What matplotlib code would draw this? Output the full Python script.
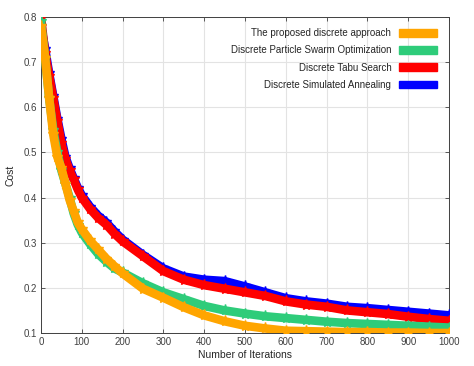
import matplotlib
matplotlib.use("Agg")
import matplotlib.pyplot as plt
from matplotlib.patches import Patch

iterations = [0, 10, 20, 30, 40, 50, 60, 70, 80, 90, 100, 120, 140, 160, 180, 200,
              250, 300, 350, 400, 450, 500, 550, 600, 650, 700, 750, 800, 850, 900, 950, 1000]

proposed = [0.78, 0.71, 0.62, 0.54, 0.49, 0.465, 0.43, 0.395, 0.37, 0.345, 0.33, 0.305, 0.285,
            0.265, 0.248, 0.232, 0.198, 0.178, 0.157, 0.139, 0.126, 0.116, 0.11, 0.105, 0.104,
            0.103, 0.102, 0.102, 0.101, 0.101, 0.100, 0.100]
dpso = [0.79, 0.71, 0.62, 0.55, 0.50, 0.46, 0.43, 0.40, 0.365, 0.34, 0.322, 0.297, 0.275,
        0.258, 0.243, 0.234, 0.21, 0.19, 0.175, 0.16, 0.15, 0.143, 0.137, 0.133, 0.129,
        0.125, 0.122, 0.12, 0.118, 0.116, 0.114, 0.112]
dts = [0.80, 0.72, 0.67, 0.62, 0.57, 0.52, 0.485, 0.46, 0.44, 0.418, 0.40, 0.375, 0.355,
       0.34, 0.32, 0.303, 0.27, 0.237, 0.218, 0.206, 0.198, 0.19, 0.182, 0.17, 0.163,
       0.158, 0.15, 0.146, 0.142, 0.136, 0.131, 0.127]
dsa = [0.78, 0.73, 0.675, 0.625, 0.575, 0.53, 0.49, 0.465, 0.443, 0.422, 0.405, 0.38, 0.36,
       0.345, 0.325, 0.307, 0.273, 0.243, 0.225, 0.218, 0.215, 0.203, 0.19, 0.177, 0.17,
       0.165, 0.158, 0.155, 0.151, 0.147, 0.143, 0.139]

labels = ["The proposed discrete approach", "Discrete Particle Swarm Optimization",
          "Discrete Tabu Search", "Discrete Simulated Annealing"]
colors = ["#FFA500", "#2ECC7A", "#FF0000", "#0000FF"]

plt.rcParams['font.family'] = ['Liberation Sans', 'DejaVu Sans']

fig = plt.figure(figsize=(4.74, 3.66), dpi=100)
ax = fig.add_axes([0.0865, 0.0902, 0.8608, 0.8634])

series = [proposed, dpso, dts, dsa]
for idx in [3, 2, 1, 0]:
    ax.plot(iterations, series[idx], color=colors[idx], lw=6.2, solid_capstyle='butt',
            solid_joinstyle='round', marker='*', ms=8, mew=1.0, mec=colors[idx],
            zorder=3 + (3 - idx))

ax.set_xlim(0, 1000)
ax.set_ylim(0.1, 0.8)
ax.set_xticks(range(0, 1001, 100))
ax.set_yticks([0.1, 0.2, 0.3, 0.4, 0.5, 0.6, 0.7, 0.8])
ax.set_yticklabels(["0.1", "0.2", "0.3", "0.4", "0.5", "0.6", "0.7", "0.8"])
ax.grid(True, color="#E3E3E3", lw=0.8)
ax.set_axisbelow(True)
ax.tick_params(direction='in', top=True, right=True, labelsize=7, colors="#404040",
               length=3, width=0.6, pad=3)
for s in ax.spines.values():
    s.set_color("#404040")
    s.set_linewidth(0.7)
ax.set_xlabel("Number of Iterations", fontsize=7.5, color="#262626", labelpad=2)
ax.set_ylabel("Cost", fontsize=7.5, color="#262626", labelpad=6)

handles = [Patch(facecolor=c, edgecolor=c) for c in colors]
leg = ax.legend(handles, labels, loc='upper right', bbox_to_anchor=(0.9706, 0.965),
                frameon=False, markerfirst=False, fontsize=7, handlelength=3.9,
                handleheight=0.85, handletextpad=0.8, labelspacing=0.75,
                borderpad=0, borderaxespad=0)
for t in leg.get_texts():
    t.set_color("#262626")

fig.savefig("out.png", dpi=100)
